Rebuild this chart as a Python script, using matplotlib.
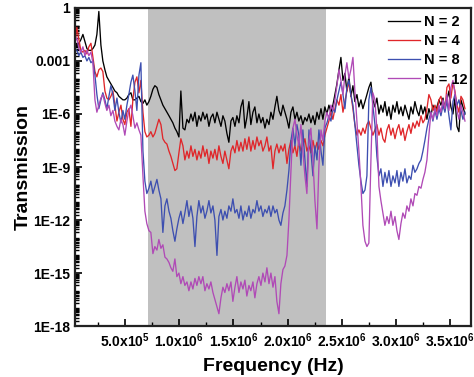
import numpy as np
import matplotlib
matplotlib.use("Agg")
import matplotlib.pyplot as plt
from matplotlib.ticker import LogLocator, MultipleLocator, NullFormatter

plt.rcParams['font.family'] = 'Liberation Sans'
plt.rcParams['font.weight'] = 'bold'
plt.rcParams['mathtext.fontset'] = 'custom'
plt.rcParams['mathtext.rm'] = 'Liberation Sans:bold'
plt.rcParams['mathtext.default'] = 'rm'

# frequency samples (kHz), shared by all four spectra
freq_khz = [
    37, 55, 74, 92, 111, 129, 148, 166, 185, 203,
    222, 240, 258, 277, 295, 314, 332, 351, 369, 388,
    406, 425, 443, 462, 480, 498, 517, 535, 554, 572,
    591, 609, 628, 646, 665, 683, 701, 720, 738, 757,
    775, 794, 812, 831, 849, 868, 886, 905, 923, 941,
    960, 978, 997, 1015, 1034, 1052, 1071, 1089, 1108, 1126,
    1145, 1163, 1181, 1200, 1218, 1237, 1255, 1274, 1292, 1311,
    1329, 1348, 1366, 1385, 1403, 1421, 1440, 1458, 1477, 1495,
    1514, 1532, 1551, 1569, 1588, 1606, 1624, 1643, 1661, 1680,
    1698, 1717, 1735, 1754, 1772, 1791, 1809, 1828, 1846, 1865,
    1883, 1901, 1920, 1938, 1957, 1975, 1994, 2012, 2031, 2049,
    2068, 2086, 2104, 2123, 2141, 2160, 2178, 2197, 2215, 2234,
    2252, 2271, 2289, 2308, 2326, 2344, 2363, 2381, 2400, 2418,
    2437, 2455, 2474, 2492, 2511, 2529, 2547, 2566, 2584, 2603,
    2621, 2640, 2658, 2677, 2695, 2714, 2732, 2750, 2769, 2787,
    2806, 2824, 2843, 2861, 2880, 2898, 2917, 2935, 2954, 2972,
    2991, 3009, 3027, 3046, 3064, 3083, 3101, 3120, 3138, 3157,
    3175, 3194, 3212, 3231, 3249, 3267, 3286, 3304, 3323, 3341,
    3360, 3378, 3397, 3415, 3434, 3452, 3470, 3489, 3507, 3526,
    3544, 3563, 3581, 3600, 3618, 3637,
]

# log10(transmission) for each number of unit cells
logT_n2 = [
    -2.1, -2.2, -2.0, -1.8, -1.5, -1.9, -2.3, -2.4, -2.4, -2.3,
    -2.1, -1.5, -0.2, -2.1, -3.0, -3.5, -3.9, -4.1, -4.3, -4.5,
    -4.7, -4.8, -5.0, -5.1, -5.2, -5.2, -5.1, -4.9, -4.8, -5.2,
    -5.2, -5.1, -5.0, -5.3, -5.4, -5.2, -5.5, -5.3, -5.0, -4.6,
    -4.4, -4.5, -4.9, -5.2, -5.5, -5.7, -5.9, -6.1, -6.3, -6.5,
    -6.8, -7.0, -7.3, -4.7, -6.8, -6.9, -6.3, -6.5, -6.0, -6.4,
    -5.9, -6.7, -6.1, -6.4, -5.9, -6.3, -6.0, -6.7, -6.2, -6.0,
    -6.5, -5.9, -6.3, -6.7, -6.1, -6.4, -7.1, -7.6, -6.4, -6.2,
    -6.7, -6.1, -6.5, -5.6, -5.2, -6.8, -6.2, -5.3, -6.6, -5.9,
    -5.6, -6.5, -6.0, -6.5, -6.2, -6.8, -6.3, -6.6, -5.9, -6.3,
    -5.6, -5.0, -5.8, -6.1, -5.5, -5.9, -6.3, -6.8, -5.9, -5.6,
    -6.3, -5.9, -6.4, -6.1, -6.6, -6.2, -6.4, -6.0, -6.5, -6.1,
    -6.6, -5.9, -6.3, -5.7, -6.3, -5.6, -6.0, -5.5, -5.9, -5.5,
    -4.9, -4.3, -3.5, -2.8, -4.1, -3.7, -4.7, -3.9, -5.0, -4.4,
    -5.3, -4.9, -5.6, -5.2, -5.7, -5.3, -4.9, -4.5, -4.2, -5.2,
    -5.6, -5.1, -6.0, -5.5, -5.9, -5.3, -6.1, -5.6, -6.3, -5.5,
    -5.9, -5.3, -6.0, -5.6, -6.1, -5.5, -5.9, -6.3, -5.6, -6.0,
    -5.3, -5.8, -6.1, -5.5, -6.0, -5.6, -6.3, -5.7, -6.1, -5.5,
    -5.9, -5.6, -5.2, -5.5, -5.1, -5.7, -5.2, -4.7, -5.6, -6.0,
    -5.1, -6.7, -7.0, -5.2, -5.6, -6.0,
]

logT_n4 = [
    -2.1, -1.1, -1.8, -2.4, -2.5, -2.4, -2.6, -2.2, -2.0, -2.8,
    -3.6, -3.9, -3.5, -3.4, -3.6, -4.7, -5.1, -5.2, -5.0, -4.7,
    -5.5, -6.4, -5.9, -5.5, -6.3, -6.6, -5.9, -5.7, -6.7, -5.2,
    -4.2, -3.9, -4.8, -4.1, -5.9, -7.0, -7.3, -7.2, -7.0, -7.3,
    -7.1, -6.7, -6.3, -6.6, -7.4, -7.6, -7.7, -8.1, -8.4, -8.8,
    -9.2, -9.1, -8.2, -7.4, -7.8, -8.6, -8.1, -8.5, -7.8, -8.4,
    -8.0, -8.6, -8.1, -8.5, -7.8, -8.4, -8.0, -8.8, -8.1, -8.5,
    -8.0, -8.6, -7.8, -8.4, -8.8, -8.1, -8.6, -9.1, -8.1, -7.8,
    -8.2, -7.5, -8.1, -7.6, -8.1, -7.4, -8.0, -7.3, -8.1, -7.5,
    -8.0, -7.3, -7.8, -7.5, -8.1, -7.8, -7.3, -8.1, -7.8, -9.1,
    -8.1, -7.7, -8.2, -7.8, -8.1, -7.7, -8.8, -8.0, -7.5, -8.2,
    -7.8, -8.4, -7.5, -8.1, -7.8, -7.4, -8.1, -7.8, -8.2, -7.5,
    -8.1, -7.6, -8.0, -7.5, -7.8, -7.2, -6.8, -6.4, -5.9, -6.3,
    -5.7, -5.2, -5.5, -4.9, -5.9, -5.3, -4.7, -4.2, -4.9, -5.7,
    -6.6, -7.2, -6.9, -7.2, -6.8, -7.1, -6.6, -6.4, -6.8, -7.2,
    -6.9, -6.6, -7.2, -6.8, -7.4, -7.6, -6.9, -6.6, -7.2, -6.8,
    -7.4, -6.9, -6.6, -7.2, -6.8, -7.5, -7.0, -6.6, -7.1, -6.5,
    -6.8, -6.4, -6.7, -6.1, -6.5, -6.3, -5.7, -4.9, -5.2, -5.8,
    -5.5, -5.9, -5.2, -5.0, -5.5, -5.8, -4.5, -4.3, -5.1, -4.2,
    -4.7, -5.5, -5.9, -5.0, -5.2, -5.7,
]

logT_n8 = [
    -2.3, -2.4, -2.7, -2.5, -2.8, -2.7, -3.0, -2.8, -3.1, -3.0,
    -3.8, -4.9, -5.7, -5.2, -4.8, -5.2, -5.7, -5.0, -4.4, -4.9,
    -5.8, -5.1, -5.9, -6.5, -5.8, -6.3, -5.5, -4.9, -4.2, -3.8,
    -4.7, -5.8, -3.8, -3.1, -8.1, -9.8, -10.5, -10.2, -9.8, -10.5,
    -10.1, -9.7, -10.3, -10.8, -12.7, -11.2, -10.8, -11.5, -11.9, -12.6,
    -13.2, -12.5, -11.9, -11.5, -12.2, -11.6, -10.9, -11.8, -11.2, -11.9,
    -13.5, -11.8, -10.9, -11.6, -11.2, -11.9, -11.5, -10.9, -11.6, -11.2,
    -12.0, -14.0, -11.8, -11.4, -12.0, -11.5, -11.9, -11.2, -11.5, -10.8,
    -11.6, -11.4, -11.9, -11.2, -12.0, -11.5, -11.8, -11.2, -11.9, -11.4,
    -11.6, -10.9, -11.5, -11.2, -11.8, -11.4, -11.6, -11.2, -11.8, -11.2,
    -11.6, -11.4, -12.0, -12.3, -11.6, -11.2, -10.3, -9.2, -7.5, -6.8,
    -7.8, -6.6, -7.2, -8.9, -6.9, -8.6, -10.1, -6.9, -8.1, -9.5,
    -7.8, -8.6, -6.9, -8.1, -8.9, -6.8, -6.5, -6.1, -6.4, -5.7,
    -5.9, -5.2, -4.7, -4.2, -4.9, -5.7, -4.5, -4.1, -4.9, -5.5,
    -6.6, -7.8, -8.9, -9.8, -10.5, -10.3, -9.5, -5.2, -4.5, -5.5,
    -6.6, -8.4, -9.5, -9.1, -10.1, -9.3, -9.9, -9.2, -10.1, -9.5,
    -9.9, -9.2, -10.1, -9.3, -9.8, -9.1, -9.9, -9.5, -9.7, -8.9,
    -9.3, -9.1, -8.8, -8.6, -8.1, -7.5, -6.8, -6.3, -5.9, -6.4,
    -5.8, -6.3, -5.7, -6.1, -5.5, -5.9, -5.2, -6.1, -6.9, -5.3,
    -4.9, -5.5, -5.2, -5.8, -6.3, -5.9,
]

logT_n12 = [
    -1.9, -1.7, -2.3, -2.5, -2.2, -2.7, -2.4, -2.7, -2.5, -3.1,
    -5.2, -5.9, -5.5, -5.1, -4.9, -5.4, -5.8, -5.5, -6.1, -5.8,
    -6.4, -6.7, -6.9, -6.3, -6.6, -7.2, -6.4, -5.8, -5.5, -6.1,
    -6.8, -6.5, -6.9, -7.2, -9.5, -11.5, -12.2, -12.6, -12.7, -13.9,
    -13.5, -13.7, -13.1, -13.6, -13.4, -14.1, -14.2, -14.4, -14.7, -14.9,
    -14.2, -15.2, -15.0, -15.6, -15.2, -15.7, -15.5, -16.0, -15.5, -15.9,
    -15.3, -15.7, -15.2, -15.6, -15.2, -16.0, -15.6, -15.9, -15.5, -16.1,
    -16.5, -16.9, -17.3, -16.4, -15.8, -16.1, -15.6, -16.0, -15.5, -16.6,
    -15.8, -15.2, -16.1, -15.5, -15.9, -15.4, -16.3, -15.7, -16.0, -15.5,
    -16.4, -15.6, -15.2, -15.7, -15.0, -15.5, -14.7, -15.6, -15.0, -15.8,
    -15.2, -16.6, -17.3, -15.6, -14.8, -14.6, -14.0, -12.0, -9.2, -6.8,
    -6.3, -7.2, -7.8, -6.6, -8.1, -9.5, -10.5, -7.5, -6.8, -8.6,
    -10.9, -12.5, -8.9, -6.9, -7.5, -6.4, -5.9, -6.3, -5.5, -5.8,
    -5.2, -4.4, -3.5, -4.1, -4.9, -3.8, -3.1, -4.0, -3.5, -2.8,
    -4.7, -6.4, -8.1, -10.1, -12.3, -13.2, -13.5, -13.3, -8.6, -4.8,
    -5.2, -6.9, -10.1, -10.9, -11.6, -12.3, -11.8, -12.2, -11.5, -12.3,
    -11.8, -12.6, -13.1, -12.2, -11.6, -11.9, -11.2, -11.5, -10.8, -11.2,
    -10.5, -10.6, -10.1, -10.2, -9.7, -9.3, -8.6, -7.2, -5.9, -6.3,
    -5.7, -6.1, -5.5, -5.9, -5.2, -5.7, -4.9, -5.8, -4.5, -4.1,
    -4.8, -5.8, -6.3, -5.5, -5.9, -6.4,
]

labels = ['N = 2', 'N = 4', 'N = 8', 'N = 12']
colors = ['#000000', '#e0262a', '#3d4fb0', '#b04ab6']
band_khz = (710, 2352)

freq = np.array(freq_khz) * 1e3
series = [logT_n2, logT_n4, logT_n8, logT_n12]

fig = plt.figure(figsize=(4.74, 3.77), dpi=100)
ax = fig.add_axes([0.158, 0.135, 0.836, 0.844])

ax.axvspan(band_khz[0] * 1e3, band_khz[1] * 1e3, color='#c0c0c0', lw=0, zorder=0)

for vals, lab, c in zip(series, labels, colors):
    ax.plot(freq, 10.0 ** np.array(vals), color=c, lw=0.95, label=lab)

ax.set_yscale('log')
ax.set_ylim(1e-18, 1)
ax.set_xlim(37e3, 3.694e6)

ax.set_yticks([1, 1e-3, 1e-6, 1e-9, 1e-12, 1e-15, 1e-18])
ax.set_yticklabels(['1', '0.001', '1E-6', '1E-9', '1E-12', '1E-15', '1E-18'])
ax.yaxis.set_minor_locator(LogLocator(base=10, subs=np.arange(1, 10), numticks=200))
ax.yaxis.set_minor_formatter(NullFormatter())

xt = [5e5, 1e6, 1.5e6, 2e6, 2.5e6, 3e6, 3.5e6]
ax.set_xticks(xt)
ax.set_xticklabels([r'$%.1f\mathrm{x}10^{%d}$' % (v / 10 ** int(np.log10(v)), int(np.log10(v))) for v in xt])
ax.xaxis.set_minor_locator(MultipleLocator(2.5e5))

ax.tick_params(which='both', direction='in', top=False, right=False, labelsize=10)
ax.tick_params(which='major', length=5, width=1.2)
ax.tick_params(which='minor', length=3, width=1.0)

for s in ax.spines.values():
    s.set_linewidth(1.6)
    s.set_color('#222222')

ax.set_xlabel('Frequency (Hz)', fontsize=14, fontweight='bold', labelpad=6)
ax.set_ylabel('Transmission', fontsize=14, fontweight='bold', labelpad=1)

ax.legend(loc='upper right', frameon=False, fontsize=10.5, handlelength=2.2,
          labelspacing=0.35, borderaxespad=0.1, handletextpad=0.3,
          bbox_to_anchor=(1.01, 1.0))

fig.savefig('out.png', dpi=100)
